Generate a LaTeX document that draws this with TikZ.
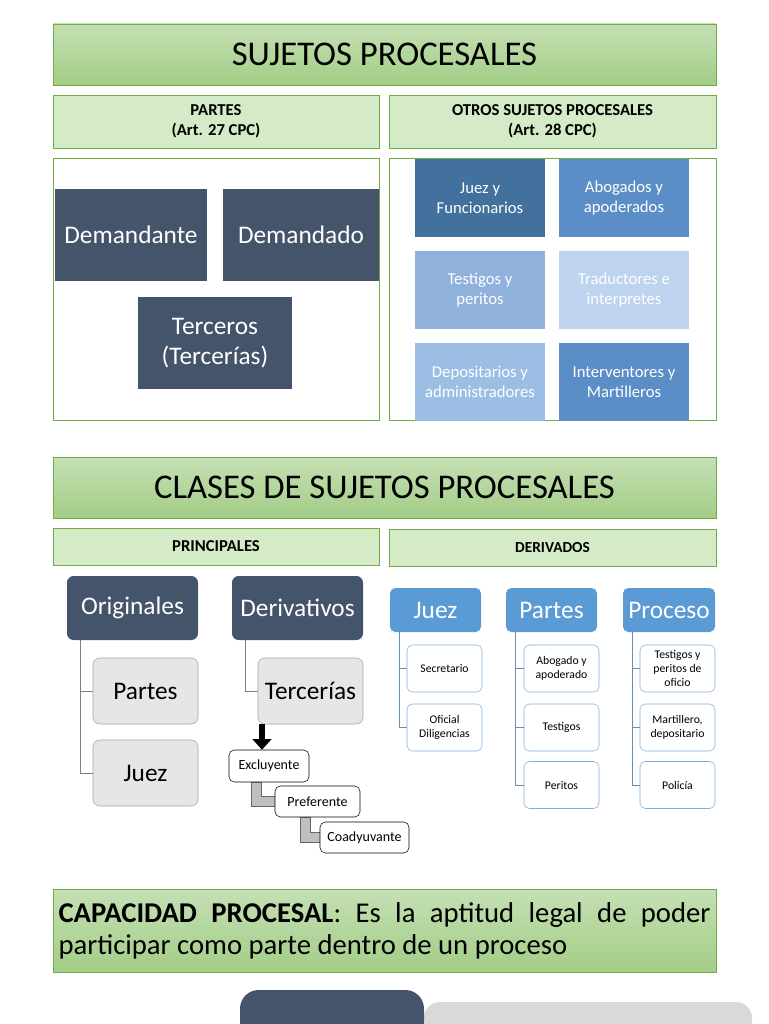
\documentclass[tikz,border=0pt]{standalone}
\usepackage{fontspec}
\setmainfont{Carlito}
\usetikzlibrary{shadings,arrows.meta}
\definecolor{gb}{HTML}{70AD47}
\definecolor{gtop}{HTML}{C5E0B4}
\definecolor{gbot}{HTML}{A3CD86}
\definecolor{gsub}{HTML}{D5EBC8}
\definecolor{slate}{HTML}{44546A}
\definecolor{bA}{HTML}{41719C}
\definecolor{bB}{HTML}{5B8EC6}
\definecolor{bC}{HTML}{8FB1DB}
\definecolor{bD}{HTML}{BDD3EE}
\definecolor{bE}{HTML}{9DBEE4}
\definecolor{jb}{HTML}{5B9BD5}
\definecolor{lgray}{HTML}{E7E6E6}
\begin{document}
\begin{tikzpicture}[x=0.75pt,y=-0.75pt,
 title/.style={draw=gb,top color=gtop,bottom color=gbot,font=\fontsize{26}{30}\selectfont},
 sub/.style={draw=gb,fill=gsub,font=\bfseries\fontsize{12.5}{15}\selectfont,align=center},
 dk/.style={fill=slate,text=white,font=\fontsize{19}{23}\selectfont,align=center},
 gr/.style={text=white,font=\fontsize{12.5}{15}\selectfont,align=center},
 rd/.style={rounded corners=5pt,fill=slate,text=white,font=\fontsize{19}{22}\selectfont},
 gy/.style={rounded corners=5pt,draw=gray!70,fill=lgray,font=\fontsize{19}{22}\selectfont},
 jh/.style={rounded corners=4pt,fill=jb,text=white,font=\fontsize{19}{22}\selectfont},
 jk/.style={rounded corners=4pt,draw=jb!80,fill=white,font=\fontsize{8.8}{10.5}\selectfont,align=center},
 st/.style={rounded corners=4pt,draw=black,fill=white,font=\fontsize{10.5}{12}\selectfont},
 ln/.style={draw=bA!80,line width=0.6pt},
 elb/.style={draw=gray!80!black,fill=gray!50}]
\useasboundingbox (0,0) rectangle (768,1024);
\fill[white] (0,0) rectangle (768,1024);
% section 1
\node[title,minimum width=663*0.75pt,minimum height=61*0.75pt] (t1) at (384.5,54.5) {SUJETOS PROCESALES};
\node[sub,minimum width=326*0.75pt,minimum height=53*0.75pt] (p) at (216,121.5) {PARTES\\(Art. 27 CPC)};
\node[sub,minimum width=327*0.75pt,minimum height=53*0.75pt] (o) at (552.5,121.5) {OTROS SUJETOS PROCESALES\\(Art. 28 CPC)};
\node[draw=gb,minimum width=326*0.75pt,minimum height=262*0.75pt] (lb) at (216,289) {};
\node[draw=gb,minimum width=327*0.75pt,minimum height=262*0.75pt] (rb) at (552.5,289) {};
\node[dk,minimum width=152*0.75pt,minimum height=92*0.75pt] (d1) at (131,235) {Demandante};
\node[dk,minimum width=156*0.75pt,minimum height=92*0.75pt] (d2) at (301,235) {Demandado};
\node[dk,minimum width=154*0.75pt,minimum height=92*0.75pt] (d3) at (215,343) {Terceros\\(Tercerías)};
\foreach \n/\c/\x/\y/\t in {g1/bA/480/198/{Juez y\\Funcionarios},g2/bB/624/198/{Abogados y\\apoderados},g3/bC/480/290/{Testigos y\\peritos},g4/bD/624/290/{Traductores e\\interpretes},g5/bE/480/382/{Depositarios y\\administradores},g6/bB/624/382/{Interventores y\\Martilleros}}
 \node[gr,fill=\c,minimum width=130*0.75pt,minimum height=78*0.75pt] (\n) at (\x,\y) {\t};
% section 2
\node[title,minimum width=663*0.75pt,minimum height=61*0.75pt] (t2) at (384.5,487.5) {CLASES DE SUJETOS PROCESALES};
\node[sub,minimum width=326*0.75pt,minimum height=37*0.75pt] (pr) at (216,546.5) {PRINCIPALES};
\node[sub,minimum width=327*0.75pt,minimum height=37*0.75pt,font=\bfseries\fontsize{11.5}{13}\selectfont] (de) at (552.5,548) {DERIVADOS};
\node[rd,minimum width=131*0.75pt,minimum height=64*0.75pt] (or) at (132.5,608) {Originales};
\node[rd,minimum width=131*0.75pt,minimum height=64*0.75pt] (dv) at (297.5,608) {Derivativos};
\node[gy,minimum width=105*0.75pt,minimum height=66*0.75pt] (pa) at (145.5,691) {Partes};
\node[gy,minimum width=105*0.75pt,minimum height=66*0.75pt] (ju) at (145.5,773) {Juez};
\node[gy,minimum width=105*0.75pt,minimum height=66*0.75pt] (te) at (310.5,691) {Tercerías};
\draw[gray] (or.south -| 80,0) |- (pa.west);
\draw[gray] (or.south -| 80,0) |- (ju.west);
\draw[gray] (dv.south -| 245,0) |- (te.west);
\draw[elb] (251,782) -- (251,806) -- (275,806) -- (275,796) -- (261,796) -- (261,782) -- cycle;
\draw[elb] (300,817) -- (300,842) -- (320,842) -- (320,832) -- (310,832) -- (310,817) -- cycle;
\node[st,minimum width=80*0.75pt,minimum height=32*0.75pt] (ex) at (269,766) {Excluyente};
\node[st,minimum width=85*0.75pt,minimum height=31*0.75pt] (pf) at (317.5,801.5) {Preferente};
\node[st,minimum width=89*0.75pt,minimum height=31*0.75pt] (co) at (364.5,837.5) {Coadyuvante};
\draw[-{Triangle[width=14pt,length=8pt]},line width=5pt] (te.south -| 262,0) -- (ex.north -| 262,0);
% derivados trees
\node[jh,minimum width=91*0.75pt,minimum height=44*0.75pt] (h1) at (435.5,610) {Juez};
\node[jh,minimum width=91*0.75pt,minimum height=44*0.75pt] (h2) at (551.5,610) {Partes};
\node[jh,minimum width=92*0.75pt,minimum height=44*0.75pt] (h3) at (669,610) {Proceso};
\foreach \n/\x/\y/\t in {a1/444.5/668.5/Secretario,a2/444.5/727.5/{Oficial\\Diligencias},b1/561.5/668.5/{Abogado y\\apoderado},b2/561.5/727.5/Testigos,b3/561.5/785/Peritos,c1/677.5/668.5/{Testigos y\\peritos de\\oficio},c2/677.5/727.5/{Martillero,\\depositario},c3/677.5/785/Policía}
 \node[jk,minimum width=75*0.75pt,minimum height=47*0.75pt] (\n) at (\x,\y) {\t};
\draw[ln] (h1.south -| 399,0) |- (a1.west); \draw[ln] (h1.south -| 399,0) |- (a2.west);
\draw[ln] (h2.south -| 515,0) |- (b1.west); \draw[ln] (h2.south -| 515,0) |- (b2.west); \draw[ln] (h2.south -| 515,0) |- (b3.west);
\draw[ln] (h3.south -| 632,0) |- (c1.west); \draw[ln] (h3.south -| 632,0) |- (c2.west); \draw[ln] (h3.south -| 632,0) |- (c3.west);
% capacidad
\node[draw=gb,top color=gtop,bottom color=gbot,minimum width=663*0.75pt,minimum height=83*0.75pt] (cap) at (384.5,930.5) {};
\node[text width=652*0.75pt,align=justify,font=\fontsize{21.5}{24}\selectfont] (capt) at (384.5,930.5) {\textbf{CAPACIDAD PROCESAL}: Es la aptitud legal de poder\linebreak participar como parte dentro de un proceso};
% bottom
\fill[gray!30,rounded corners=12pt] (424,1002) rectangle (752,1040);
\fill[slate,rounded corners=14pt] (240,990) rectangle (424,1040);
\end{tikzpicture}
\end{document}
